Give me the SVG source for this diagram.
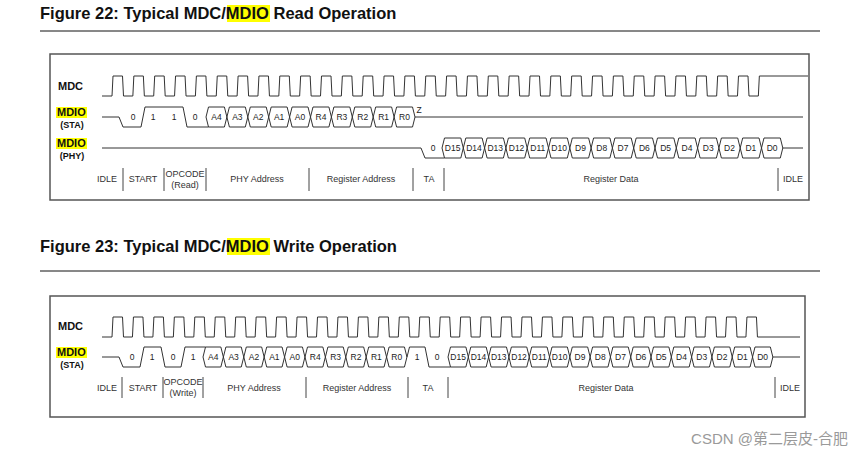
<svg xmlns="http://www.w3.org/2000/svg" xmlns:xlink="http://www.w3.org/1999/xlink" width="865" height="457" viewBox="0 0 865 457">
<style>
text{font-family:"Liberation Sans",Arial,sans-serif;fill:#222}
.t{font-size:16.5px;font-weight:bold;fill:#111}
.rl{font-size:11px;font-weight:bold;fill:#111}
.rs{font-size:9px;font-weight:bold;text-anchor:middle;fill:#111}
.b{font-size:8.5px;text-anchor:middle}
.l{font-size:9px;text-anchor:middle;fill:#333}
.w{fill:none;stroke:#333;stroke-width:1}
.fr{fill:#fff;stroke:#555;stroke-width:1.5}
.sep{stroke:#444;stroke-width:1}
.hl{fill:#ffff00}
</style>
<defs>
<path id="hA" d="M0,0 L2.5,-10 H18.4 L20.9,0 L18.4,10 H2.5 Z" fill="none" stroke="#333"/>
<path id="hB" d="M0,0 L2.5,-10 H18.8 L21.3,0 L18.8,10 H2.5 Z" fill="none" stroke="#333"/>
<path id="hC" d="M0,0 L2.5,-10 H17.85 L20.35,0 L17.85,10 H2.5 Z" fill="none" stroke="#333"/>
</defs>
<rect width="865" height="457" fill="#fff"/>

<g id="title1">
<rect class="hl" x="227" y="5" width="43" height="17"/>
<text class="t" x="40" y="19">Figure 22: Typical MDC/<tspan>MDIO</tspan> Read Operation</text>
<line x1="40" y1="31" x2="820" y2="31" stroke="#111" stroke-width="1"/>
</g>
<g id="frame1"><rect class="fr" x="50" y="54" width="759" height="146"/></g>
<g id="labels1">
<text class="rl" x="58" y="90">MDC</text>
<rect class="hl" x="56" y="107" width="31" height="11"/>
<text class="rl" x="57" y="116">MDIO</text>
<text class="rs" x="72" y="128">(STA)</text>
<rect class="hl" x="56" y="138" width="31" height="11"/>
<text class="rl" x="57" y="147">MDIO</text>
<text class="rs" x="72" y="159">(PHY)</text>
</g>
<g id="signals1">
<path class="w" d="M102,96 H112 l1,-20 h9.5 l1,20 h9.35 l1,-20 h9.5 l1,20 h9.35 l1,-20 h9.5 l1,20 h9.35 l1,-20 h9.5 l1,20 h9.35 l1,-20 h9.5 l1,20 h9.35 l1,-20 h9.5 l1,20 h9.35 l1,-20 h9.5 l1,20 h9.35 l1,-20 h9.5 l1,20 h9.35 l1,-20 h9.5 l1,20 h9.35 l1,-20 h9.5 l1,20 h9.35 l1,-20 h9.5 l1,20 h9.35 l1,-20 h9.5 l1,20 h9.35 l1,-20 h9.5 l1,20 h9.35 l1,-20 h9.5 l1,20 h9.35 l1,-20 h9.5 l1,20 h9.35 l1,-20 h9.5 l1,20 h9.35 l1,-20 h9.5 l1,20 h9.35 l1,-20 h9.5 l1,20 h9.35 l1,-20 h9.5 l1,20 h9.35 l1,-20 h9.5 l1,20 h9.35 l1,-20 h9.5 l1,20 h9.35 l1,-20 h9.5 l1,20 h9.35 l1,-20 h9.5 l1,20 h9.35 l1,-20 h9.5 l1,20 h9.35 l1,-20 h9.5 l1,20 h9.35 l1,-20 h9.5 l1,20 h9.35 l1,-20 h9.5 l1,20 h9.35 l1,-20 h9.5 l1,20 h9.35 l1,-20 h9.5 l1,20 h9.35 l1,-20 h9.5 l1,20 h9.35 l1,-20 h9.5 l1,20 h9.35 l1,-20 H808"/>
<path class="w" d="M102,117 H119 L123,127 H141 L145,107 H183 L187,127 H208.5"/>
<path class="w" d="M415,117 H803"/>
<g>
<use xlink:href="#hA" x="206" y="117"/><use xlink:href="#hA" x="226.9" y="117"/><use xlink:href="#hA" x="247.8" y="117"/><use xlink:href="#hA" x="268.7" y="117"/><use xlink:href="#hA" x="289.6" y="117"/><use xlink:href="#hA" x="310.5" y="117"/><use xlink:href="#hA" x="331.4" y="117"/><use xlink:href="#hA" x="352.3" y="117"/><use xlink:href="#hA" x="373.2" y="117"/><use xlink:href="#hA" x="394.1" y="117"/>
</g>
<text class="b" x="133" y="120">0</text><text class="b" x="153" y="120">1</text><text class="b" x="174" y="120">1</text><text class="b" x="195" y="120">0</text>
<text class="b" x="216.45" y="120">A4</text><text class="b" x="237.35" y="120">A3</text><text class="b" x="258.25" y="120">A2</text><text class="b" x="279.15" y="120">A1</text><text class="b" x="300.05" y="120">A0</text><text class="b" x="320.95" y="120">R4</text><text class="b" x="341.85" y="120">R3</text><text class="b" x="362.75" y="120">R2</text><text class="b" x="383.65" y="120">R1</text><text class="b" x="404.55" y="120">R0</text>
<text class="b" x="419" y="113">Z</text>
<path class="w" d="M102,148 H421 L425,158 H444.5"/>
<path class="w" d="M782.8,148 H803"/>
<g>
<use xlink:href="#hB" x="442" y="148"/><use xlink:href="#hB" x="463.3" y="148"/><use xlink:href="#hB" x="484.6" y="148"/><use xlink:href="#hB" x="505.9" y="148"/><use xlink:href="#hB" x="527.2" y="148"/><use xlink:href="#hB" x="548.5" y="148"/><use xlink:href="#hB" x="569.8" y="148"/><use xlink:href="#hB" x="591.1" y="148"/><use xlink:href="#hB" x="612.4" y="148"/><use xlink:href="#hB" x="633.7" y="148"/><use xlink:href="#hB" x="655" y="148"/><use xlink:href="#hB" x="676.3" y="148"/><use xlink:href="#hB" x="697.6" y="148"/><use xlink:href="#hB" x="718.9" y="148"/><use xlink:href="#hB" x="740.2" y="148"/><use xlink:href="#hB" x="761.5" y="148"/>
</g>
<text class="b" x="433" y="151">0</text>
<text class="b" x="452.65" y="151">D15</text><text class="b" x="473.95" y="151">D14</text><text class="b" x="495.25" y="151">D13</text><text class="b" x="516.55" y="151">D12</text><text class="b" x="537.85" y="151">D11</text><text class="b" x="559.15" y="151">D10</text><text class="b" x="580.45" y="151">D9</text><text class="b" x="601.75" y="151">D8</text><text class="b" x="623.05" y="151">D7</text><text class="b" x="644.35" y="151">D6</text><text class="b" x="665.65" y="151">D5</text><text class="b" x="686.95" y="151">D4</text><text class="b" x="708.25" y="151">D3</text><text class="b" x="729.55" y="151">D2</text><text class="b" x="750.85" y="151">D1</text><text class="b" x="772.15" y="151">D0</text>
</g>
<g id="fields1">
<path class="sep" d="M123,168 V191 M164,168 V191 M206,168 V191 M309,168 V191 M413,168 V191 M444,168 V191 M778,168 V191"/>
<text class="l" x="107" y="182">IDLE</text>
<text class="l" x="143" y="182">START</text>
<text class="l" x="185" y="177">OPCODE</text>
<text class="l" x="185" y="188">(Read)</text>
<text class="l" x="257" y="182">PHY Address</text>
<text class="l" x="361" y="182">Register Address</text>
<text class="l" x="429" y="182">TA</text>
<text class="l" x="611" y="182">Register Data</text>
<text class="l" x="793" y="182">IDLE</text>
</g>

<g id="title2">
<rect class="hl" x="227" y="238" width="43" height="17"/>
<text class="t" x="40" y="252">Figure 23: Typical MDC/<tspan>MDIO</tspan> Write Operation</text>
<line x1="40" y1="271" x2="820" y2="271" stroke="#111" stroke-width="1"/>
</g>
<g id="frame2"><rect class="fr" x="50" y="296" width="755" height="121"/></g>
<g id="labels2">
<text class="rl" x="58" y="330">MDC</text>
<rect class="hl" x="56" y="347" width="31" height="11"/>
<text class="rl" x="57" y="356">MDIO</text>
<text class="rs" x="72" y="368">(STA)</text>
</g>
<g id="signals2">
<path class="w" d="M102,337 H112 l1,-20 h9.5 l1,20 h8.95 l1,-20 h9.5 l1,20 h8.95 l1,-20 h9.5 l1,20 h8.95 l1,-20 h9.5 l1,20 h8.95 l1,-20 h9.5 l1,20 h8.95 l1,-20 h9.5 l1,20 h8.95 l1,-20 h9.5 l1,20 h8.95 l1,-20 h9.5 l1,20 h8.95 l1,-20 h9.5 l1,20 h8.95 l1,-20 h9.5 l1,20 h8.95 l1,-20 h9.5 l1,20 h8.95 l1,-20 h9.5 l1,20 h8.95 l1,-20 h9.5 l1,20 h8.95 l1,-20 h9.5 l1,20 h8.95 l1,-20 h9.5 l1,20 h8.95 l1,-20 h9.5 l1,20 h8.95 l1,-20 h9.5 l1,20 h8.95 l1,-20 h9.5 l1,20 h8.95 l1,-20 h9.5 l1,20 h8.95 l1,-20 h9.5 l1,20 h8.95 l1,-20 h9.5 l1,20 h8.95 l1,-20 h9.5 l1,20 h8.95 l1,-20 h9.5 l1,20 h8.95 l1,-20 h9.5 l1,20 h8.95 l1,-20 h9.5 l1,20 h8.95 l1,-20 h9.5 l1,20 h8.95 l1,-20 h9.5 l1,20 h8.95 l1,-20 h9.5 l1,20 h8.95 l1,-20 h9.5 l1,20 h8.95 l1,-20 h9.5 l1,20 h8.95 l1,-20 h9.5 l1,20 h8.95 l1,-20 h9.5 l1,20 H800"/>
<path class="w" d="M102,357 H119 L123,367 H140 L144,347 H161 L165,367 H181 L185,347 H205.5"/>
<path class="w" d="M407,357 L409.5,347 H425 L429,367 H450.5"/>
<path class="w" d="M772.8,357 H800"/>
<g>
<use xlink:href="#hC" x="203" y="357"/><use xlink:href="#hC" x="223.4" y="357"/><use xlink:href="#hC" x="243.8" y="357"/><use xlink:href="#hC" x="264.2" y="357"/><use xlink:href="#hC" x="284.6" y="357"/><use xlink:href="#hC" x="305" y="357"/><use xlink:href="#hC" x="325.4" y="357"/><use xlink:href="#hC" x="345.8" y="357"/><use xlink:href="#hC" x="366.2" y="357"/><use xlink:href="#hC" x="386.6" y="357"/>
<use xlink:href="#hC" x="448" y="357"/><use xlink:href="#hC" x="468.3" y="357"/><use xlink:href="#hC" x="488.6" y="357"/><use xlink:href="#hC" x="508.9" y="357"/><use xlink:href="#hC" x="529.2" y="357"/><use xlink:href="#hC" x="549.5" y="357"/><use xlink:href="#hC" x="569.8" y="357"/><use xlink:href="#hC" x="590.1" y="357"/><use xlink:href="#hC" x="610.4" y="357"/><use xlink:href="#hC" x="630.7" y="357"/><use xlink:href="#hC" x="651" y="357"/><use xlink:href="#hC" x="671.3" y="357"/><use xlink:href="#hC" x="691.6" y="357"/><use xlink:href="#hC" x="711.9" y="357"/><use xlink:href="#hC" x="732.2" y="357"/><use xlink:href="#hC" x="752.5" y="357"/>
</g>
<text class="b" x="132" y="360">0</text><text class="b" x="152" y="360">1</text><text class="b" x="173" y="360">0</text><text class="b" x="193" y="360">1</text>
<text class="b" x="213.2" y="360">A4</text><text class="b" x="233.6" y="360">A3</text><text class="b" x="254" y="360">A2</text><text class="b" x="274.4" y="360">A1</text><text class="b" x="294.8" y="360">A0</text><text class="b" x="315.2" y="360">R4</text><text class="b" x="335.6" y="360">R3</text><text class="b" x="356" y="360">R2</text><text class="b" x="376.4" y="360">R1</text><text class="b" x="396.8" y="360">R0</text>
<text class="b" x="417" y="360">1</text><text class="b" x="437" y="360">0</text>
<text class="b" x="458.15" y="360">D15</text><text class="b" x="478.45" y="360">D14</text><text class="b" x="498.75" y="360">D13</text><text class="b" x="519.05" y="360">D12</text><text class="b" x="539.35" y="360">D11</text><text class="b" x="559.65" y="360">D10</text><text class="b" x="579.95" y="360">D9</text><text class="b" x="600.25" y="360">D8</text><text class="b" x="620.55" y="360">D7</text><text class="b" x="640.85" y="360">D6</text><text class="b" x="661.15" y="360">D5</text><text class="b" x="681.45" y="360">D4</text><text class="b" x="701.75" y="360">D3</text><text class="b" x="722.05" y="360">D2</text><text class="b" x="742.35" y="360">D1</text><text class="b" x="762.65" y="360">D0</text>
</g>
<g id="fields2">
<path class="sep" d="M122,377 V398 M163,377 V398 M203,377 V398 M306,377 V398 M408,377 V398 M448,377 V398 M775,377 V398"/>
<text class="l" x="107" y="391">IDLE</text>
<text class="l" x="143" y="391">START</text>
<text class="l" x="183" y="385">OPCODE</text>
<text class="l" x="183" y="396">(Write)</text>
<text class="l" x="254" y="391">PHY Address</text>
<text class="l" x="357" y="391">Register Address</text>
<text class="l" x="428" y="391">TA</text>
<text class="l" x="606" y="391">Register Data</text>
<text class="l" x="790" y="391">IDLE</text>
</g>
<text x="848" y="444" text-anchor="end" style="font-family:'Liberation Sans','Noto Sans CJK SC',sans-serif;font-size:15px;fill:#9a9a9a">CSDN @第二层皮-合肥</text>
</svg>
